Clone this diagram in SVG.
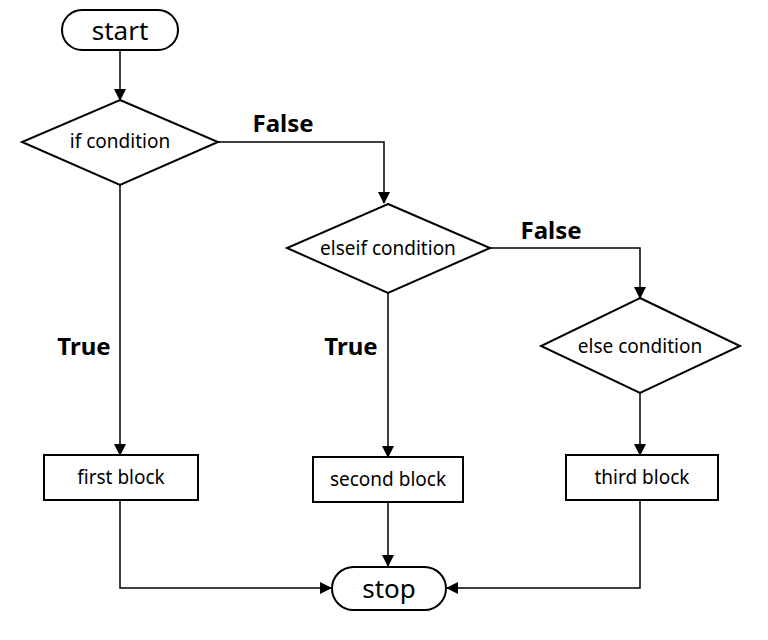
<svg xmlns="http://www.w3.org/2000/svg" width="768" height="640" viewBox="0 0 768 640">
<defs>
<marker id="ah" markerWidth="12" markerHeight="12" refX="11" refY="6" orient="auto" markerUnits="userSpaceOnUse">
<path d="M0,0 L12,6 L0,12 Z" fill="#000"/>
</marker>
<style>
.s{fill:#fff;stroke:#000;stroke-width:2}
.t{font-family:"Noto Sans","Open Sans",sans-serif;font-size:19px;text-anchor:middle;dominant-baseline:central;fill:#000}
.big{font-size:26px}
.b{font-family:"Noto Sans","Open Sans",sans-serif;font-size:24px;font-weight:bold;text-anchor:middle;dominant-baseline:central;fill:#000}
.c{fill:none;stroke:#000;stroke-width:1.5;marker-end:url(#ah)}
</style>
</defs>
<rect width="768" height="640" fill="#fff"/>
<g id="connectors">
<path class="c" d="M120,50 V100"/>
<path class="c" d="M218,142 H384 V203"/>
<path class="c" d="M490,248 H640 V298"/>
<path class="c" d="M120,185 V455"/>
<path class="c" d="M388,293 V457"/>
<path class="c" d="M640,393 V455"/>
<path class="c" d="M120,500 V588 H331"/>
<path class="c" d="M388,502 V566"/>
<path class="c" d="M640,500 V588 H447"/>
<text class="b" x="283" y="122">False</text>
<text class="b" x="551" y="229">False</text>
<text class="b" x="84" y="345">True</text>
<text class="b" x="351" y="345">True</text>
</g>
<g id="start"><rect class="s" x="62" y="10" width="116" height="40" rx="20"/><text class="t big" x="120" y="30">start</text></g>
<g id="if"><polygon class="s" points="120,100 218,142 120,185 22,142"/><text class="t" x="120" y="141">if condition</text></g>
<g id="elseif"><polygon class="s" points="388,204 490,248 388,293 287,248"/><text class="t" x="388" y="248">elseif condition</text></g>
<g id="else"><polygon class="s" points="640,298 740,346 640,393 541,346"/><text class="t" x="640" y="346">else condition</text></g>
<g id="first"><rect class="s" x="44" y="455" width="154" height="45"/><text class="t" x="121" y="477">first block</text></g>
<g id="second"><rect class="s" x="313" y="457" width="150" height="45"/><text class="t" x="388" y="479">second block</text></g>
<g id="third"><rect class="s" x="566" y="455" width="152" height="45"/><text class="t" x="642" y="477">third block</text></g>
<g id="stop"><rect class="s" x="332" y="567" width="114" height="43" rx="21.5"/><text class="t big" x="389" y="588">stop</text></g>
</svg>
